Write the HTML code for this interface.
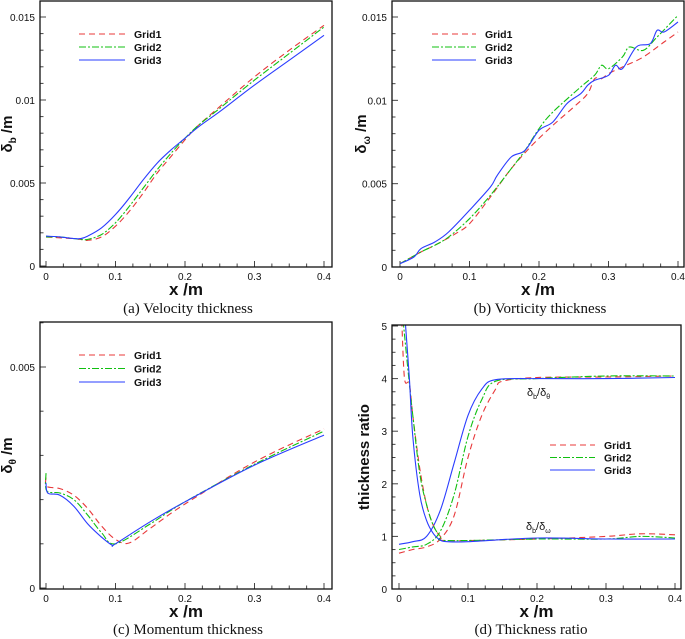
<!DOCTYPE html>
<html><head><meta charset="utf-8"><style>
body{margin:0;background:#fff;}
svg{display:block;font-family:"Liberation Sans",sans-serif;}
.cap{font-family:"Liberation Serif",serif;font-size:15px;}
</style></head><body>
<svg id="fig" width="685" height="639" viewBox="0 0 685 639"></svg>
<script>
// ---- data (x in m, thickness in 1e-3 m) ----
const aX1=[0,0.02,0.04,0.05,0.06,0.08,0.1,0.12,0.14,0.16,0.18,0.2,0.22,0.25,0.3,0.35,0.4];
const aG1=[1.75,1.7,1.65,1.6,1.55,1.75,2.4,3.3,4.4,5.6,6.6,7.6,8.5,9.6,11.4,13.0,14.5];
const aG2=[1.75,1.75,1.65,1.6,1.6,1.9,2.6,3.6,4.7,5.8,6.8,7.7,8.5,9.5,11.2,12.8,14.4];
const aG3=[1.8,1.75,1.65,1.65,1.8,2.3,3.1,4.1,5.2,6.2,7.0,7.7,8.4,9.3,10.9,12.4,13.9];

const bX1=[0,0.03,0.05,0.08,0.1,0.13,0.16,0.19,0.22,0.25,0.27,0.28,0.29,0.3,0.32,0.35,0.38,0.4];
const bG1=[0.2,0.9,1.3,2.0,2.6,4.2,5.9,7.3,8.5,9.6,10.4,11.3,11.3,11.6,12.0,12.6,13.5,14.1];
const bX2=[0,0.03,0.05,0.07,0.1,0.13,0.16,0.18,0.2,0.22,0.26,0.28,0.29,0.3,0.32,0.33,0.35,0.37,0.4];
const bG2=[0.2,0.9,1.3,1.8,2.9,4.3,5.9,7.0,8.3,9.3,10.8,11.5,12.1,11.9,12.6,13.2,13.0,13.8,15.1];
const bX3=[0,0.02,0.03,0.05,0.07,0.1,0.13,0.14,0.16,0.18,0.2,0.22,0.24,0.26,0.27,0.28,0.3,0.31,0.32,0.34,0.36,0.37,0.38,0.4];
const bG3=[0.2,0.6,1.1,1.5,2.1,3.4,4.8,5.5,6.6,7.0,8.2,8.7,9.8,10.4,10.9,11.2,11.5,12.1,11.9,13.2,13.4,14.2,14.1,14.7];

const cX1=[0,0.001,0.02,0.04,0.06,0.08,0.1,0.12,0.15,0.2,0.3,0.4];
const cG1=[2.5,2.3,2.25,2.1,1.8,1.4,1.1,1.02,1.35,1.9,2.85,3.6];
const cX2=[0,0.001,0.02,0.04,0.06,0.08,0.1,0.15,0.2,0.3,0.4];
const cG2=[2.6,2.2,2.15,2.0,1.65,1.25,1.0,1.45,1.95,2.8,3.55];
const cX3=[0,0.001,0.005,0.02,0.04,0.06,0.08,0.095,0.1,0.15,0.2,0.3,0.4];
const cG3=[2.38,2.2,2.13,2.1,1.85,1.45,1.15,0.97,1.0,1.5,1.95,2.78,3.46];

const dXt1=[0,0.02,0.04,0.06,0.08,0.1,0.12,0.14,0.15,0.2,0.3,0.4];
const dT1=[0.68,0.75,0.8,0.95,1.4,2.5,3.3,3.8,3.95,4.02,4.03,4.05];
const dXt2=[0,0.02,0.04,0.06,0.08,0.1,0.12,0.14,0.2,0.3,0.4];
const dT2=[0.75,0.8,0.85,1.1,1.8,2.9,3.6,3.95,4.0,4.05,4.05];
const dXt3=[0,0.02,0.04,0.06,0.08,0.1,0.12,0.14,0.2,0.3,0.4];
const dT3=[0.85,0.9,1.0,1.5,2.4,3.3,3.8,3.98,4.0,4.0,4.02];
const dXw1=[0.004,0.008,0.015,0.02,0.03,0.04,0.05,0.06,0.07,0.2,0.3,0.35,0.4];
const dW1=[5.1,4.0,3.9,3.3,2.3,1.6,1.2,1.0,0.92,0.95,1.0,1.05,1.03];
const dXw2=[0.006,0.015,0.02,0.03,0.04,0.05,0.06,0.07,0.2,0.3,0.35,0.4];
const dW2=[5.1,3.9,3.3,2.2,1.6,1.2,1.0,0.92,0.95,0.95,1.0,0.97];
const dXw3=[0.009,0.015,0.02,0.03,0.04,0.05,0.06,0.07,0.1,0.2,0.3,0.4];
const dW3=[5.1,4.0,2.9,1.8,1.3,1.05,0.93,0.9,0.9,0.97,0.95,0.95];

const xTicks=[0,0.1,0.2,0.3,0.4];
const xTickLabels=["0","0.1","0.2","0.3","0.4"];

const NS="http://www.w3.org/2000/svg";
const fig=document.getElementById('fig');
function mk(tag,attrs,parent,text){const e=document.createElementNS(NS,tag);for(const k in attrs)e.setAttribute(k,attrs[k]);if(text!==undefined)e.textContent=text;(parent||fig).appendChild(e);return e;}
const STY={g1:{stroke:"#e8383a",dash:"6,4"},g2:{stroke:"#10c010",dash:"7,2,2,2"},g3:{stroke:"#2a3cff",dash:""}};

function smoothPath(pts){
  let d='M'+pts[0][0].toFixed(1)+','+pts[0][1].toFixed(1);
  for(let i=0;i<pts.length-1;i++){
    const p0=pts[i-1]||pts[i],p1=pts[i],p2=pts[i+1],p3=pts[i+2]||p2;
    const c1=[p1[0]+(p2[0]-p0[0])/6,p1[1]+(p2[1]-p0[1])/6];
    const c2=[p2[0]-(p3[0]-p1[0])/6,p2[1]-(p3[1]-p1[1])/6];
    d+='C'+c1[0].toFixed(1)+','+c1[1].toFixed(1)+' '+c2[0].toFixed(1)+','+c2[1].toFixed(1)+' '+p2[0].toFixed(1)+','+p2[1].toFixed(1);
  }
  return d;
}

function panel(P){
  const g=mk('g',{});
  
  
  const sx=v=>P.x0+(v-0)/(0.4)*(P.x1-P.x0);
  const sy=v=>P.y0-(v-0)/(P.yMaxTick)*(P.y0-P.yT);
  const cid='clip-'+P.name;
  const cp=mk('clipPath',{id:cid},g);mk('rect',{x:P.bl,y:P.bt,width:P.br-P.bl,height:P.bb-P.bt},cp);
  for(let v=0;v<=P.yMax+1e-9;v+=P.yMinor){const y=sy(v);if(y<P.bt)continue;const major=Math.abs(v/P.yMajor-Math.round(v/P.yMajor))<1e-6;
    mk('line',{x1:P.bl,x2:P.bl+(major?6:3.5),y1:y,y2:y,stroke:'#444','stroke-width':1},g);}
  for(let v=0;v<=0.4001;v+=0.025){const x=sx(v);const major=Math.abs(v*10-Math.round(v*10))<1e-6;
    mk('line',{x1:x,x2:x,y1:P.bb,y2:P.bb-(major?6:3.5),stroke:'#444','stroke-width':1},g);}
  P.yLabels.forEach((t,i)=>{const l=mk('text',{x:P.bl-5,y:sy(P.yVals[i])+4,'text-anchor':'end','font-size':10,fill:'#111'},g,t);
    });
  xTicks.forEach((v,i)=>{const l=mk('text',{x:sx(v),y:P.bb+13,'text-anchor':'middle','font-size':10,fill:'#111'},g,xTickLabels[i]);
    });
  P.series.forEach(s=>{const st=STY[s.k];
    const pts=s.x.map((v,i)=>[sx(v),sy(s.y[i])]);
    const p=mk('path',{d:smoothPath(pts),fill:'none',stroke:st.stroke,'stroke-width':1.1,'stroke-dasharray':st.dash,'clip-path':'url(#'+cid+')','stroke-linejoin':'round'},g);
    });
  const fr=mk('rect',{x:P.bl,y:P.bt,width:P.br-P.bl,height:P.bb-P.bt,fill:'none',stroke:'#111','stroke-width':1.3},g);
  
  const lg=mk('g',{},g);
  ['g1','g2','g3'].forEach((k,i)=>{const y=P.ly+i*P.lstep;const st=STY[k];
    const ln=mk('line',{x1:P.lx,x2:P.lx+P.lw,y1:y,y2:y,stroke:st.stroke,'stroke-width':1.1,'stroke-dasharray':st.dash},lg);
    
    const t=mk('text',{x:P.lx+P.lw+9,y:y+4,'font-size':10.5,'font-weight':'bold',fill:'#111'},lg,'Grid'+(i+1));
    });
  const xt=mk('text',{x:(P.bl+P.br)/2,y:P.bb+28,'text-anchor':'middle','font-size':17,'font-weight':'bold',fill:'#111'},g,'x /m');
  
  const yt=mk('text',{transform:`translate(${P.ytx},${(P.bt+P.bb)/2}) rotate(-90)`,'text-anchor':'middle','font-size':P.ytFs||15,'font-weight':P.ytW||'normal',fill:'#111'},g);
  
  yt.innerHTML=P.ytHtml;
  const cap=mk('text',{x:P.capx,y:P.capy,'text-anchor':'middle',class:'cap',fill:'#111'},g,P.cap);
  
  return {g,sx,sy};
}

panel({name:'panel-a-velocity-thickness',bl:40,br:332,bt:1,bb:267,x0:46,x1:324,y0:266,yT:17,yMaxTick:15,yMax:16,yMinor:1,yMajor:5,
  yVals:[0,5,10,15],yLabels:['0','0.005','0.01','0.015'],
  series:[{k:'g1',name:'line-a-grid1',x:aX1,y:aG1},{k:'g2',name:'line-a-grid2',x:aX1,y:aG2},{k:'g3',name:'line-a-grid3',x:aX1,y:aG3}],
  lx:79,lw:46,ly:34,lstep:13,ytx:12,ytHtml:'δ<tspan font-size="10" dy="4">b</tspan><tspan dy="-4"> /m</tspan>',ytW:'bold',
  cap:'(a) Velocity thickness',capx:188,capy:313});
panel({name:'panel-b-vorticity-thickness',bl:392,br:684,bt:1,bb:267,x0:400,x1:678,y0:267,yT:17,yMaxTick:15,yMax:16,yMinor:1,yMajor:5,
  yVals:[0,5,10,15],yLabels:['0','0.005','0.01','0.015'],
  series:[{k:'g1',name:'line-b-grid1',x:bX1,y:bG1},{k:'g2',name:'line-b-grid2',x:bX2,y:bG2},{k:'g3',name:'line-b-grid3',x:bX3,y:bG3}],
  lx:432,lw:44,ly:34,lstep:13,ytx:366,ytHtml:'δ<tspan font-size="10" dy="4">ω</tspan><tspan dy="-4"> /m</tspan>',ytW:'bold',
  cap:'(b) Vorticity thickness',capx:540,capy:313});
panel({name:'panel-c-momentum-thickness',bl:40,br:332,bt:322,bb:589,x0:46,x1:324,y0:588,yT:367,yMaxTick:5,yMax:6,yMinor:1,yMajor:5,
  yVals:[0,5],yLabels:['0','0.005'],
  series:[{k:'g1',name:'line-c-grid1',x:cX1,y:cG1},{k:'g2',name:'line-c-grid2',x:cX2,y:cG2},{k:'g3',name:'line-c-grid3',x:cX3,y:cG3}],
  lx:79,lw:46,ly:355,lstep:13.5,ytx:12,ytHtml:'δ<tspan font-size="10" dy="4">θ</tspan><tspan dy="-4"> /m</tspan>',ytW:'bold',
  cap:'(c) Momentum thickness',capx:188,capy:634});
const pd=panel({name:'panel-d-thickness-ratio',bl:392,br:681,bt:325,bb:589,x0:399,x1:675,y0:589,yT:326,yMaxTick:5,yMax:5,yMinor:0.25,yMajor:1,
  yVals:[0,1,2,3,4,5],yLabels:['0','1','2','3','4','5'],
  series:[{k:'g1',name:'line-d-ratio-theta-grid1',x:dXt1,y:dT1},{k:'g2',name:'line-d-ratio-theta-grid2',x:dXt2,y:dT2},{k:'g3',name:'line-d-ratio-theta-grid3',x:dXt3,y:dT3},
          {k:'g1',name:'line-d-ratio-omega-grid1',x:dXw1,y:dW1},{k:'g2',name:'line-d-ratio-omega-grid2',x:dXw2,y:dW2},{k:'g3',name:'line-d-ratio-omega-grid3',x:dXw3,y:dW3}],
  lx:550,lw:45,ly:445,lstep:12.5,ytx:369,ytHtml:'thickness ratio',ytW:'bold',ytFs:15,
  cap:'(d) Thickness ratio',capx:531,capy:634});
const a1=mk('text',{x:527,y:396,'font-size':11,fill:'#111'},pd.g);a1.innerHTML='δ<tspan font-size="7" dy="3">b</tspan><tspan dy="-3">/δ</tspan><tspan font-size="7" dy="3">θ</tspan>';

const a2=mk('text',{x:526,y:530,'font-size':11,fill:'#111'},pd.g);a2.innerHTML='δ<tspan font-size="7" dy="3">b</tspan><tspan dy="-3">/δ</tspan><tspan font-size="7" dy="3">ω</tspan>';

</script>
</body></html>
